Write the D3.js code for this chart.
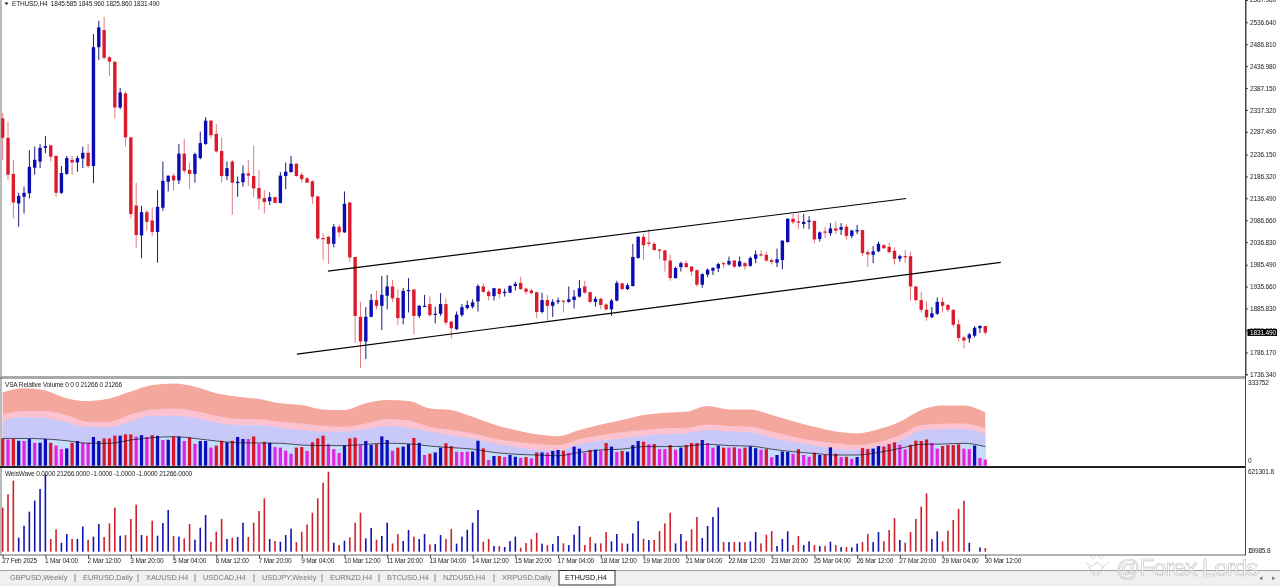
<!DOCTYPE html>
<html lang="en">

<head>
    <meta charset="UTF-8">
    <title>ETHUSD,H4</title>
    <style>
        body {
            padding: 0px;
            margin: 0px;
            background-color: white;
            overflow: hidden;
        }

        svg {
            filter: blur(0.3px);
        }

        text {
            font-family: "Liberation Sans", Arial, sans-serif;
            font-size: 6.5px;
            letter-spacing: -0.15px;
            fill: #222;
        }

        .tab-label {
            font-size: 7.4px;
            letter-spacing: 0;
            fill: #777;
        }

        .axis path,
        .axis line {
            stroke: #444;
        }

        .axis text {
            fill: #222;
            font-family: "Liberation Sans", Arial, sans-serif;
            font-size: 6.5px;
        }
    </style>
</head>

<body>
    <div id="chart"></div>

    <script src="https://cdn.jsdelivr.net/npm/d3@7"></script>
    <script>

        // candles, one per H4 bar
        const open = [
            2318,2274,2192,2125,2140,2148,2206,2220,2251,2257,
            2233,2149,2192,2224,2218,2227,2240,2210,2480,2519,
            2457,2447,2343,2375,2275,2120,2052,2105,2086,2060,
            2115,2174,2188,2177,2238,2201,2192,2228,2260,2313,
            2283,2244,2187,2220,2171,2173,2193,2187,2160,2137,
            2130,2139,2126,2187,2196,2215,2190,2182,2175,2141,
            2046,2049,2033,2072,2059,2127,2003,1867,1811,1867,
            1905,1892,1915,1936,1910,1864,1927,1929,1869,1891,
            1896,1873,1874,1896,1856,1839,1871,1887,1890,1902,
            1936,1924,1914,1931,1921,1922,1937,1944,1931,1927,
            1923,1878,1905,1892,1901,1904,1901,1905,1913,1936,
            1923,1901,1908,1895,1884,1904,1943,1930,1937,2001,
            2049,2036,2033,2020,2018,1995,1955,1980,1989,1981,
            1973,1940,1963,1972,1977,1989,1986,1995,1982,1989,
            1983,1999,2009,2008,1996,1990,1996,2037,2090,2084,
            2078,2083,2085,2044,2061,2057,2068,2065,2072,2051,
            2062,2064,2014,2008,2016,2030,2026,2017,1999,2005,
            2005,1936,1905,1883,1866,1874,1901,1894,1883,1850,
            1820,1818,1824,1841,1846];

        const close = [
            2274,2190,2127,2142,2149,2208,2224,2251,2255,2231,
            2149,2194,2228,2218,2228,2240,2210,2480,2525,2456,
            2447,2343,2377,2275,2101,2053,2105,2083,2060,2117,
            2176,2188,2177,2238,2199,2192,2237,2262,2313,2280,
            2243,2187,2205,2172,2174,2193,2188,2159,2136,2128,
            2139,2126,2188,2197,2215,2187,2180,2172,2140,2045,
            2044,2033,2072,2059,2124,2002,1869,1811,1867,1905,
            1892,1917,1936,1909,1864,1926,1928,1869,1892,1892,
            1871,1874,1896,1854,1841,1872,1889,1894,1900,1937,
            1924,1914,1932,1919,1924,1937,1942,1930,1924,1921,
            1878,1905,1892,1901,1904,1902,1907,1913,1932,1922,
            1901,1908,1894,1884,1904,1944,1930,1939,2003,2049,
            2030,2033,2019,2019,1995,1955,1978,1989,1980,1970,
            1940,1964,1974,1978,1987,1987,1994,1981,1993,1982,
            2001,2009,2007,1995,1992,1998,2040,2090,2082,2081,
            2083,2086,2043,2059,2059,2068,2063,2071,2051,2063,
            2064,2012,2009,2016,2033,2023,2014,1999,2005,2003,
            1936,1905,1883,1866,1875,1901,1892,1883,1849,1819,
            1813,1827,1842,1846,1831];

        const high = [
            2330,2311,2224,2149,2163,2246,2254,2260,2278,2258,
            2233,2210,2233,2233,2233,2254,2260,2510,2540,2549,
            2460,2447,2387,2379,2275,2172,2119,2110,2116,2155,
            2220,2188,2193,2260,2271,2218,2240,2288,2321,2315,
            2305,2275,2220,2224,2186,2211,2224,2256,2201,2155,
            2150,2140,2196,2218,2233,2216,2195,2184,2178,2141,
            2057,2051,2078,2077,2152,2127,2003,1901,1889,1919,
            1926,1960,1962,1951,1930,1933,1955,1930,1894,1917,
            1913,1890,1921,1909,1858,1879,1896,1904,1907,1941,
            1943,1928,1933,1933,1931,1939,1947,1958,1933,1931,
            1924,1922,1917,1907,1911,1904,1936,1928,1951,1949,
            1924,1913,1911,1898,1908,1949,1945,1943,2033,2050,
            2057,2066,2038,2021,2019,2008,1981,1992,1995,1983,
            1975,1966,1977,1980,1990,1992,2004,1996,2004,1992,
            2004,2018,2018,2015,2000,2022,2042,2091,2101,2101,
            2101,2096,2086,2061,2071,2080,2083,2080,2078,2065,
            2076,2065,2019,2028,2038,2032,2036,2025,2008,2019,
            2015,1937,1924,1902,1889,1911,1911,1896,1884,1861,
            1824,1830,1846,1848,1846];

        const low = [
            2224,2178,2091,2072,2102,2136,2190,2205,2239,2220,
            2140,2146,2190,2190,2197,2205,2205,2171,2451,2452,
            2415,2318,2339,2255,2091,2023,2000,2063,2051,1990,
            2108,2152,2155,2169,2193,2158,2172,2225,2258,2273,
            2240,2172,2178,2099,2140,2163,2164,2139,2111,2102,
            2121,2125,2125,2157,2195,2186,2172,2171,2124,2042,
            1995,1987,2025,2048,2058,1992,1808,1751,1771,1866,
            1884,1837,1884,1901,1848,1850,1877,1827,1864,1889,
            1867,1852,1869,1848,1818,1837,1867,1884,1886,1879,
            1921,1904,1904,1909,1913,1921,1927,1928,1917,1917,
            1864,1875,1858,1867,1896,1877,1899,1886,1911,1919,
            1898,1890,1884,1881,1869,1902,1929,1928,1936,1999,
            1996,2027,2017,1999,1970,1949,1954,1970,1978,1960,
            1936,1933,1957,1962,1969,1978,1984,1978,1980,1974,
            1981,1989,2004,1992,1986,1980,1975,2036,2078,2066,
            2068,2066,2034,2038,2046,2051,2055,2053,2042,2046,
            2055,2005,1980,1989,2014,2021,2011,1986,1992,1990,
            1904,1902,1877,1858,1864,1871,1877,1878,1843,1811,
            1795,1808,1820,1830,1826];

        // VSA relative volume, thousands
        const volume = [
            107,103,105,98,97,105,90,90,105,90,
            79,65,68,90,97,90,90,113,97,107,
            107,118,118,123,123,114,120,113,120,117,
            101,102,114,114,97,111,86,97,97,71,
            79,98,92,98,113,105,105,115,86,94,
            90,73,71,59,47,71,73,58,92,107,
            118,85,65,50,80,107,110,81,97,82,
            85,115,101,59,71,75,85,109,90,42,
            47,52,71,88,77,55,54,55,56,98,
            68,22,38,38,34,42,35,31,34,29,
            52,52,51,58,62,59,51,75,67,51,
            62,63,60,89,75,54,58,55,81,97,
            94,84,85,65,65,81,63,71,81,89,
            89,101,89,71,79,71,71,72,67,71,
            76,69,63,65,33,42,56,54,47,65,
            42,35,51,42,43,72,47,34,35,27,
            34,69,65,67,77,75,85,92,82,64,
            82,98,97,103,89,67,77,81,81,84,
            67,65,79,30,24];

        const volumeKind = (
            "r m r b m b m b b r m m b r b m m b b r " +
            "r r b r r m b m r b m b r b m r m b b m " +
            "r r b r b b m r m r b m m m m r r m r r " +
            "r m m m b r r m b b r b b m r b b r b m " +
            "r b b r r m m m b b r m b r m b b m r m " +
            "r b m b b r m b b m r b m r b m r b b b " +
            "r m r m m r m b r r r b m m b r m r m r " +
            "b b m r m b b b m r m m r b r b r m r m " +
            "b r r b b r r r m m r r r r m m r r r r " +
            "m m b m m").split(" ");

        // volume bands, read every 4th bar
        const bandBars = d3.range(0, 185, 4);
        const bandOuter = [288,304,295,264,254,264,291,317,323,310,284,271,262,245,238,221,219,245,258,254,225,219,192,162,140,123,116,140,162,179,199,208,212,234,221,221,199,175,153,134,127,143,173,219,236,236,209];
        const bandUpper = [202,215,215,199,173,173,202,221,225,215,196,183,182,173,166,157,153,166,183,177,153,140,127,107,94,85,81,105,120,131,140,147,149,162,156,153,134,114,98,88,81,94,120,160,165,166,147];
        const bandMiddle = [175,191,188,170,152,152,175,196,196,188,170,160,160,149,140,134,134,144,157,149,134,118,107,88,73,62,60,84,99,107,118,123,127,140,134,131,110,94,79,65,62,75,98,137,144,144,124];
        const volumeAverage = [107,107,105,98,88,88,101,110,114,107,97,90,89,88,81,79,79,84,88,86,77,71,65,52,45,42,39,52,62,65,75,75,77,84,79,77,65,55,48,42,42,52,68,84,85,88,75];

        // WeisWave, thousands
        const weis = [
            339,442,547,108,200,308,393,483,596,98,
            172,69,136,98,98,193,92,116,213,113,
            218,339,123,128,252,362,128,123,239,123,
            221,321,121,116,103,213,92,185,282,77,
            154,252,98,108,113,223,113,223,313,411,
            98,82,77,128,177,74,154,210,300,411,
            531,616,69,51,85,110,223,300,103,182,
            92,121,223,64,136,82,167,116,98,136,
            56,59,128,98,175,62,116,169,223,321,
            77,98,44,44,36,82,116,31,67,98,
            146,62,51,59,121,64,51,131,198,51,
            113,64,64,151,80,136,64,62,141,236,
            100,90,90,159,218,300,64,136,82,172,
            267,105,198,267,341,74,74,74,74,74,
            80,151,64,131,159,44,98,157,51,121,
            51,80,51,44,46,77,51,36,36,33,
            62,74,136,74,151,80,167,259,90,69,
            151,252,347,449,98,157,80,162,244,329,
            393,69,0,33,28];

        const weisKind = (
            "r r r b b b b b b r r b b r b b r b b r " +
            "r r b r r r b r r b b b r b r r b b b r " +
            "r r b r b b r r r r b r b b b r r r r r " +
            "r r b r b r r r b b r b b r r b b r b b " +
            "r b b r r b b b b b r r b r b b b r r r " +
            "r b r b b r b b b r r b r r b b r b b b " +
            "r b r r r r b b r r r b b b b r b r b r " +
            "b b r r r b b b r r b b r b r b r b r b " +
            "b r r b b r r r b r r r r r b b r r r r " +
            "r b b b r").split(" ");

        // axis labels
        const priceTicks = [2587.98,2536.64,2486.81,2436.98,2387.15,2337.32,2287.49,2236.15,2186.32,2136.49,2086.66,2036.83,1985.49,1935.66,1885.83,1836.00,1786.17,1736.34];
        const timeLabels = ["27 Feb 2025","1 Mar 04:00","2 Mar 12:00","3 Mar 20:00","5 Mar 04:00","6 Mar 12:00","7 Mar 20:00","9 Mar 04:00","10 Mar 12:00","11 Mar 20:00","13 Mar 04:00","14 Mar 12:00","15 Mar 20:00","17 Mar 04:00","18 Mar 12:00","19 Mar 20:00","21 Mar 04:00","22 Mar 12:00","23 Mar 20:00","25 Mar 04:00","26 Mar 12:00","27 Mar 20:00","29 Mar 04:00","30 Mar 12:00"];
        const tabNames = ["GBPUSD,Weekly","EURUSD,Daily","XAUUSD,H4","USDCAD,H4","USDJPY,Weekly","EURNZD,H4","BTCUSD,H4","NZDUSD,H4","XRPUSD,Daily","ETHUSD,H4"];
        const tabStart = [10,83,146,203,262,330,387,443,502,565];

        // trend lines as [bar, price]
        const trendLines = [
            [[60.9, 1971], [169.2, 2136]],
            [[55.1, 1782], [186.9, 1991]]
        ];

        const lastPrice = 1831.49;

        const w = 1280;
        const h = 586;
        const axisX = 1245.5;

        const candleColor = { up: "#0b0bb4", down: "#dc1a2a" };
        const wickColor = { up: "#1b1b78", down: "#e07a84" };
        const volumeColor = d3.scaleOrdinal(["r", "m", "b"], ["#d9162a", "#e522e0", "#0c0cbc"]);
        const weisColor = d3.scaleOrdinal(["r", "b"], ["#d0202e", "#1212b0"]);

        const x = d3.scaleLinear().domain([0, 184]).range([2.67, 985.3]);
        const yPrice = d3.scaleLinear().domain([2587.3, 1736.34]).range([0, 374.3]);
        const yVol = d3.scaleLinear().domain([0, 333.752]).range([465.7, 380.7]);
        const yWeis = d3.scaleLinear().domain([0, 621.3]).range([551.7, 471]);

        const svg = d3.select("#chart")
            .append("svg")
            .attr("width", w)
            .attr("height", h)
            .attr("viewBox", `0 0 ${w} ${h}`)
            .style("display", "block");

        // price pane
        const bars = d3.range(open.length);

        const priceG = svg.append("g");

        priceG.selectAll("line.wick")
            .data(bars)
            .enter()
            .append("line")
            .attr("class", "wick")
            .attr("x1", (d) => x(d))
            .attr("x2", (d) => x(d))
            .attr("y1", (d) => yPrice(high[d]))
            .attr("y2", (d) => yPrice(low[d]))
            .attr("stroke", (d) => close[d] >= open[d] ? wickColor.up : wickColor.down)
            .attr("stroke-width", 1);

        priceG.selectAll("rect.body")
            .data(bars)
            .enter()
            .append("rect")
            .attr("class", "body")
            .attr("x", (d) => x(d) - 1.7)
            .attr("width", 3.4)
            .attr("y", (d) => yPrice(Math.max(open[d], close[d])))
            .attr("height", (d) => Math.max(1.2, Math.abs(yPrice(open[d]) - yPrice(close[d]))))
            .attr("fill", (d) => close[d] >= open[d] ? candleColor.up : candleColor.down);

        const trend = d3.line()
            .x((d) => x(d[0]))
            .y((d) => yPrice(d[1]));

        priceG.selectAll("path.trend")
            .data(trendLines)
            .enter()
            .append("path")
            .attr("class", "trend")
            .attr("d", trend)
            .attr("fill", "none")
            .attr("stroke", "black")
            .attr("stroke-width", 1.2);

        // VSA pane
        const band = (values) => d3.area()
            .x((d) => x(d))
            .y0(yVol(0))
            .y1((d, i) => yVol(values[i]))
            .curve(d3.curveMonotoneX)(bandBars);

        const bandLayers = [
            [bandOuter, "#f4a79d"],
            [bandUpper, "#fcc2d0"],
            [bandMiddle, "#c9c9f9"],
            [volumeAverage, "#c6dcfb"]
        ];

        svg.selectAll("path.band")
            .data(bandLayers)
            .enter()
            .append("path")
            .attr("class", "band")
            .attr("d", (d) => band(d[0]))
            .attr("fill", (d) => d[1]);

        svg.selectAll("rect.vol")
            .data(bars)
            .enter()
            .append("rect")
            .attr("class", "vol")
            .attr("x", (d) => x(d) - 1.6)
            .attr("width", 3.2)
            .attr("y", (d) => yVol(volume[d]))
            .attr("height", (d) => yVol(0) - yVol(volume[d]))
            .attr("fill", (d) => volumeColor(volumeKind[d]));

        svg.append("path")
            .attr("d", d3.line()
                .x((d) => x(d))
                .y((d, i) => yVol(volumeAverage[i]))
                .curve(d3.curveMonotoneX)(bandBars))
            .attr("fill", "none")
            .attr("stroke", "#111")
            .attr("stroke-width", 0.7);

        // WeisWave pane
        svg.selectAll("rect.weis")
            .data(bars)
            .enter()
            .append("rect")
            .attr("class", "weis")
            .attr("x", (d) => x(d) - 0.8)
            .attr("width", 1.6)
            .attr("y", (d) => yWeis(weis[d]))
            .attr("height", (d) => yWeis(0) - yWeis(weis[d]))
            .attr("fill", (d) => weisColor(weisKind[d]));

        // pane borders
        const frame = svg.append("g").attr("fill", "none");
        frame.append("path").attr("d", "M1,0V555").attr("stroke", "#777");
        frame.append("path").attr("d", "M0,376.5H1245").attr("stroke", "#aaa").attr("stroke-width", 1);
        frame.append("path").attr("d", "M0,378H1245").attr("stroke", "#555").attr("stroke-width", 1);
        frame.append("path").attr("d", "M0,467H1246").attr("stroke", "#222").attr("stroke-width", 2);
        frame.append("path").attr("d", "M0,555H1246").attr("stroke", "#666").attr("stroke-width", 1);

        // axes
        const priceAxis = d3.axisRight(yPrice)
            .tickValues(priceTicks)
            .tickFormat(d3.format(".3f"))
            .tickSize(2.5)
            .tickPadding(2);

        svg.append("g")
            .attr("class", "axis")
            .attr("transform", `translate(${axisX},0)`)
            .call(priceAxis);

        svg.append("path")
            .attr("d", `M${axisX},0V555`)
            .attr("stroke", "#444");

        const timeAxis = d3.axisBottom(x)
            .tickValues(timeLabels.map((d, i) => i * 8))
            .tickFormat((d, i) => timeLabels[i])
            .tickSize(3);

        const timeG = svg.append("g")
            .attr("class", "axis")
            .attr("transform", "translate(0,555)")
            .call(timeAxis);

        timeG.select(".domain").remove();
        timeG.selectAll("text")
            .attr("text-anchor", "start")
            .attr("x", -1)
            .attr("y", 3);

        // current price box
        const priceBox = svg.append("g")
            .attr("transform", `translate(1247.5,${yPrice(lastPrice)})`);
        priceBox.append("rect")
            .attr("x", 0)
            .attr("y", -3.5)
            .attr("width", 29.5)
            .attr("height", 7)
            .attr("fill", "black");
        priceBox.append("text")
            .attr("x", 2.5)
            .attr("y", 0)
            .attr("dy", "0.35em")
            .style("fill", "white")
            .text(d3.format(".3f")(lastPrice));

        // pane titles and side labels
        const labels = [
            [12, 3.5, "ETHUSD,H4  1845.585 1845.960 1825.860 1831.490"],
            [5, 384.5, "VSA Relative Volume 0 0 0 21266 0 21266"],
            [5, 473.7, "WeisWave 0.0000 21266.0000 -1.0000 -1.0000 -1.0000 21266.0000"],
            [1248, 382.5, "333752"],
            [1248, 461, "0"],
            [1248, 472, "621301.8"],
            [1248, 551, "19985.8"],
            [1249, 551, "0"]
        ];

        svg.selectAll("text.label")
            .data(labels)
            .enter()
            .append("text")
            .attr("class", "label")
            .attr("x", (d) => d[0])
            .attr("y", (d) => d[1])
            .attr("dy", "0.35em")
            .attr("xml:space", "preserve")
            .text((d) => d[2]);

        svg.append("path")
            .attr("d", "M4.5,2.5h4l-2,2.5z")
            .attr("fill", "#111");

        // tab bar
        svg.append("rect")
            .attr("x", 0)
            .attr("y", 571)
            .attr("width", w)
            .attr("height", 15)
            .attr("fill", "#f0f0f0");
        svg.append("path")
            .attr("d", `M0,570.5H${w}`)
            .attr("stroke", "#a0a0a0");
        svg.append("rect")
            .attr("x", 559)
            .attr("y", 570.5)
            .attr("width", 56)
            .attr("height", 14.5)
            .attr("fill", "white")
            .attr("stroke", "#333");

        svg.selectAll("text.tab-label")
            .data(tabNames)
            .enter()
            .append("text")
            .attr("class", "tab-label")
            .attr("x", (d, i) => tabStart[i])
            .attr("y", 577.5)
            .attr("dy", "0.35em")
            .style("fill", (d, i) => i === tabNames.length - 1 ? "#111" : null)
            .text((d) => d);

        svg.selectAll("path.tab-sep")
            .data(tabStart.slice(1, -1))
            .enter()
            .append("path")
            .attr("class", "tab-sep")
            .attr("d", (d) => `M${d - 8},574V582`)
            .attr("stroke", "#888");

        // watermark, under the scroll arrows
        const mark = svg.append("g")
            .attr("fill", "none")
            .attr("stroke", "#c4c4c4")
            .attr("stroke-width", 0.7);
        mark.append("path").attr("d", "M1090,556l3,3l3,-3M1098,556l3,3l3,-3M1085,562l6,5l6,-5l6,5l6,-5M1088,567l8,7l8,-7M1090,571l6,6l6,-6");
        mark.append("text")
            .attr("x", 1116)
            .attr("y", 576)
            .style("font-size", "24px")
            .style("letter-spacing", "-0.9px")
            .style("fill", "rgba(255,255,255,0.6)")
            .text("@Forex Lords");

        svg.append("text")
            .attr("x", 1259)
            .attr("y", 577.5)
            .attr("dy", "0.35em")
            .style("fill", "#777")
            .text("◂");
        svg.append("text")
            .attr("x", 1272)
            .attr("y", 577.5)
            .attr("dy", "0.35em")
            .style("fill", "#777")
            .text("▸");

    </script>
</body>

</html>
